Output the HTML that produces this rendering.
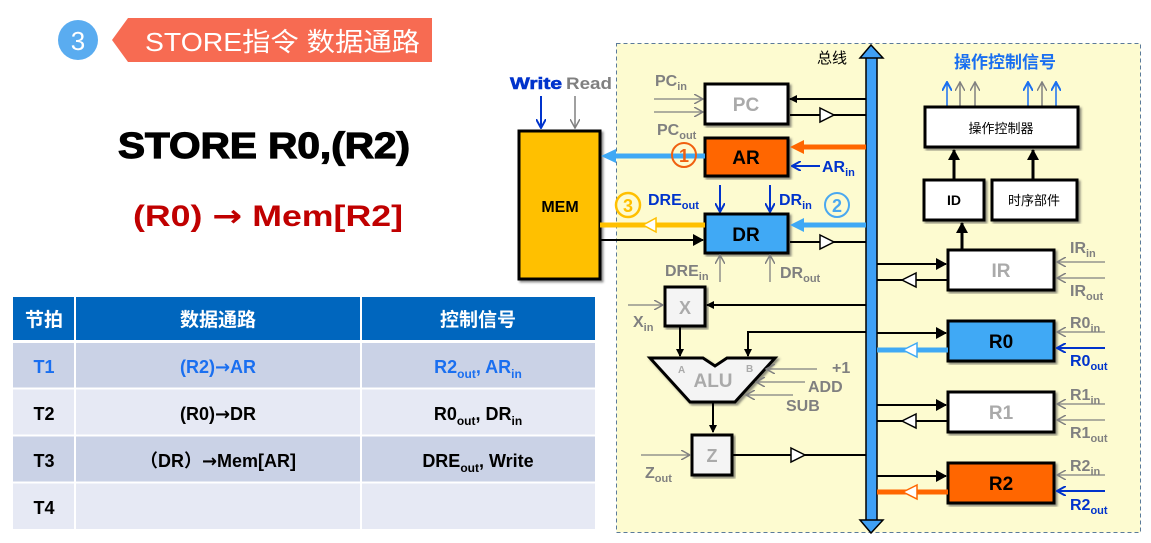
<!DOCTYPE html>
<html><head><meta charset="utf-8"><style>
body{margin:0;width:1151px;height:543px;overflow:hidden;background:#fff;font-family:"Liberation Sans","Noto Sans CJK SC",sans-serif}
svg{position:absolute;left:0;top:0}
text{font-family:"Liberation Sans","Noto Sans CJK SC",sans-serif}
.b{font-weight:bold}
.g{fill:#808080;font-weight:bold}
.bl{fill:#0033cc;font-weight:bold}
.ar{font-family:"DejaVu Sans",sans-serif}
</style></head><body>
<svg width="1151" height="543" viewBox="0 0 1151 543">
<defs>
<marker id="af" markerWidth="8" markerHeight="8" refX="7" refY="4" orient="auto" markerUnits="userSpaceOnUse"><path d="M0,0L8,4L0,8Z" fill="#000"/></marker>
<marker id="ag" markerWidth="10" markerHeight="10" refX="9" refY="5" orient="auto" markerUnits="userSpaceOnUse"><path d="M0,0L9,5L0,10" fill="none" stroke="#808080" stroke-width="1.5"/></marker>
<marker id="ab" markerWidth="10" markerHeight="10" refX="9" refY="5" orient="auto" markerUnits="userSpaceOnUse"><path d="M0,0L9,5L0,10" fill="none" stroke="#0033cc" stroke-width="2"/></marker>
<marker id="ak" markerWidth="12" markerHeight="12" refX="10" refY="6" orient="auto" markerUnits="userSpaceOnUse"><path d="M0,0L11,6L0,12Z" fill="#000"/></marker>
<marker id="au" markerWidth="10" markerHeight="10" refX="9" refY="5" orient="auto" markerUnits="userSpaceOnUse"><path d="M0,0L9,5L0,10" fill="none" stroke="#1a6ff0" stroke-width="2"/></marker>
<filter id="sh"><feDropShadow dx="2" dy="2" stdDeviation="1" flood-color="#444" flood-opacity="0.6"/></filter>
</defs>

<!-- header -->
<circle cx="78" cy="40" r="20" fill="#5aacf0"/>
<text x="78" y="50" font-size="26" fill="#fff" text-anchor="middle">3</text>
<polygon points="112,40 128,18 432,18 432,62 128,62" fill="#f76b52"/>
<text x="145" y="51" font-size="26" fill="#fff" textLength="275" lengthAdjust="spacingAndGlyphs">STORE指令  数据通路</text>
<text x="118" y="158" font-size="36" class="b" fill="#000" style="paint-order:stroke" stroke="#000" stroke-width="1.2" textLength="292" lengthAdjust="spacingAndGlyphs">STORE R0,(R2)</text>
<text x="133" y="226" font-size="30" class="b" fill="#c00000" textLength="270" lengthAdjust="spacingAndGlyphs">(R0) <tspan class="ar">→</tspan> Mem[R2]</text>

<!-- table -->
<rect x="13" y="297" width="582" height="44" fill="#0066be"/>
<rect x="13" y="342" width="582" height="46" fill="#cad2e6"/>
<rect x="13" y="389" width="582" height="46" fill="#e6e9f4"/>
<rect x="13" y="436" width="582" height="46" fill="#cad2e6"/>
<rect x="13" y="483" width="582" height="46" fill="#e6e9f4"/>
<g stroke="#fff" stroke-width="2"><line x1="75" y1="297" x2="75" y2="529"/><line x1="361" y1="297" x2="361" y2="529"/><line x1="13" y1="341.5" x2="595" y2="341.5" stroke-width="3"/><line x1="13" y1="388.5" x2="595" y2="388.5"/><line x1="13" y1="435.5" x2="595" y2="435.5"/><line x1="13" y1="482.5" x2="595" y2="482.5"/></g>
<g font-size="19" text-anchor="middle" fill="#fff" font-weight="bold"><text x="44" y="326">节拍</text><text x="218" y="326">数据通路</text><text x="478" y="326">控制信号</text></g>
<g font-size="18" font-weight="bold" text-anchor="middle">
<text x="44" y="373" fill="#1a6ff0">T1</text><text x="218" y="373" fill="#1a6ff0">(R2)<tspan class="ar">→</tspan>AR</text><text x="478" y="373" fill="#1a6ff0">R2<tspan font-size="12" dy="5">out</tspan><tspan dy="-5">, AR</tspan><tspan font-size="12" dy="5">in</tspan></text>
<text x="44" y="420">T2</text><text x="218" y="420">(R0)<tspan class="ar">→</tspan>DR</text><text x="478" y="420">R0<tspan font-size="12" dy="5">out</tspan><tspan dy="-5">, DR</tspan><tspan font-size="12" dy="5">in</tspan></text>
<text x="44" y="467">T3</text><text x="218" y="467">（DR）<tspan class="ar">→</tspan>Mem[AR]</text><text x="478" y="467">DRE<tspan font-size="12" dy="5">out</tspan><tspan dy="-5">, Write</tspan></text>
<text x="44" y="514">T4</text>
</g>

<!-- panel -->
<rect x="616.5" y="43.5" width="524" height="489" fill="#fdfbd0" stroke="#5a7a9a" stroke-dasharray="4,3"/>

<!-- MEM -->
<text x="510" y="89" font-size="17" class="bl" style="paint-order:stroke" stroke="#0033cc" stroke-width="0.6" textLength="52" lengthAdjust="spacingAndGlyphs">Write</text>
<text x="566" y="89" font-size="17" class="g" textLength="46" lengthAdjust="spacingAndGlyphs">Read</text>
<line x1="541" y1="96" x2="541" y2="128" stroke="#0033cc" stroke-width="2" marker-end="url(#ab)"/>
<line x1="575" y1="96" x2="575" y2="128" stroke="#808080" stroke-width="1.5" marker-end="url(#ag)"/>
<rect x="519" y="131" width="81" height="148" fill="#ffc000" stroke="#000" stroke-width="3" filter="url(#sh)"/>
<text x="560" y="212" font-size="16" class="b" text-anchor="middle">MEM</text>

<!-- bus -->
<rect x="866" y="56" width="11" height="470" fill="#3fa0f5" stroke="#000" stroke-width="1.5"/>
<polygon points="860,58 871,45 883,58" fill="#3fa0f5" stroke="#000" stroke-width="1.5"/>
<polygon points="860,520 871,533 883,520" fill="#3fa0f5" stroke="#000" stroke-width="1.5"/>
<text x="817" y="63" font-size="15">总线</text>

<!-- PC -->
<text x="655" y="86" font-size="16" class="g">PC<tspan font-size="11" dy="4">in</tspan></text>
<line x1="654" y1="99" x2="703" y2="99" stroke="#808080" stroke-width="1.3" marker-end="url(#ag)"/>
<line x1="654" y1="112" x2="703" y2="112" stroke="#808080" stroke-width="1.3" marker-end="url(#ag)"/>
<text x="657" y="135" font-size="16" class="g">PC<tspan font-size="11" dy="4">out</tspan></text>
<rect x="705" y="84" width="83" height="40" fill="#fff" stroke="#000" stroke-width="3" filter="url(#sh)"/>
<text x="746" y="111" font-size="19" fill="#aaa" class="b" text-anchor="middle">PC</text>
<line x1="866" y1="99" x2="790" y2="99" stroke="#000" stroke-width="2" marker-end="url(#af)"/>
<line x1="790" y1="115" x2="866" y2="115" stroke="#000" stroke-width="2"/>
<polygon points="820,108 834,115 820,122" fill="#fff" stroke="#000" stroke-width="1.5"/>

<!-- AR -->
<rect x="705" y="138" width="83" height="38" fill="#ff6600" stroke="#000" stroke-width="3" filter="url(#sh)"/>
<text x="746" y="164" font-size="19" class="b" text-anchor="middle">AR</text>
<line x1="866" y1="147" x2="800" y2="147" stroke="#ff6600" stroke-width="5"/>
<polygon points="790,147 804,140 804,154" fill="#ff6600"/>
<line x1="820" y1="166" x2="792" y2="166" stroke="#0033cc" stroke-width="2" marker-end="url(#ab)"/>
<text x="822" y="172" font-size="16" class="bl">AR<tspan font-size="11" dy="4">in</tspan></text>
<line x1="705" y1="156" x2="612" y2="156" stroke="#3fa9f5" stroke-width="5"/>
<polygon points="601,156 616,149 616,163" fill="#3fa9f5"/>
<circle cx="684" cy="155" r="12" fill="none" stroke="#f06010" stroke-width="2"/>
<text x="684" y="162" font-size="18" font-weight="bold" fill="#f06010" text-anchor="middle">1</text>

<!-- DR -->
<text x="648" y="205" font-size="16" class="bl">DRE<tspan font-size="11" dy="4">out</tspan></text>
<text x="779" y="205" font-size="16" class="bl">DR<tspan font-size="11" dy="4">in</tspan></text>
<line x1="720" y1="185" x2="720" y2="212" stroke="#0033cc" stroke-width="2" marker-end="url(#ab)"/>
<line x1="770" y1="185" x2="770" y2="212" stroke="#0033cc" stroke-width="2" marker-end="url(#ab)"/>
<circle cx="837" cy="205" r="12" fill="none" stroke="#4aa8f0" stroke-width="2"/>
<text x="837" y="212" font-size="18" font-weight="bold" fill="#4aa8f0" text-anchor="middle">2</text>
<circle cx="628" cy="205" r="12" fill="none" stroke="#ffc000" stroke-width="2.5"/>
<text x="628" y="212" font-size="18" font-weight="bold" fill="#ffc000" text-anchor="middle">3</text>
<rect x="705" y="214" width="83" height="39" fill="#3fa9f5" stroke="#000" stroke-width="3" filter="url(#sh)"/>
<text x="746" y="241" font-size="19" class="b" text-anchor="middle">DR</text>
<line x1="866" y1="225" x2="800" y2="225" stroke="#3fa9f5" stroke-width="5"/>
<polygon points="790,225 804,218 804,232" fill="#3fa9f5"/>
<line x1="705" y1="225" x2="600" y2="225" stroke="#ffc000" stroke-width="5"/>
<polygon points="643,225 656,218 656,232" fill="#fff" stroke="#ffc000" stroke-width="1.5"/>
<line x1="600" y1="240" x2="703" y2="240" stroke="#000" stroke-width="2" marker-end="url(#ak)"/>
<line x1="790" y1="242" x2="866" y2="242" stroke="#000" stroke-width="2"/>
<polygon points="820,235 834,242 820,249" fill="#fff" stroke="#000" stroke-width="1.5"/>
<line x1="720" y1="282" x2="720" y2="255" stroke="#808080" stroke-width="1.3" marker-end="url(#ag)"/>
<line x1="770" y1="282" x2="770" y2="255" stroke="#808080" stroke-width="1.3" marker-end="url(#ag)"/>
<text x="665" y="276" font-size="16" class="g">DRE<tspan font-size="11" dy="4">in</tspan></text>
<text x="780" y="278" font-size="16" class="g">DR<tspan font-size="11" dy="4">out</tspan></text>

<!-- X -->
<rect x="665" y="287" width="40" height="39" fill="#f4f4f4" stroke="#000" stroke-width="3" filter="url(#sh)"/>
<text x="685" y="314" font-size="18" fill="#aaa" class="b" text-anchor="middle">X</text>
<line x1="866" y1="305" x2="707" y2="305" stroke="#000" stroke-width="2" marker-end="url(#af)"/>
<line x1="628" y1="305" x2="663" y2="305" stroke="#808080" stroke-width="1.3" marker-end="url(#ag)"/>
<text x="633" y="327" font-size="16" class="g">X<tspan font-size="11" dy="4">in</tspan></text>

<!-- ALU -->
<polygon points="650,358 703,358 715,366 727,358 775,358 735,402 690,402" fill="#f4f4f4" stroke="#000" stroke-width="3" filter="url(#sh)"/>
<text x="678" y="373" font-size="10" fill="#aaa" class="b">A</text>
<text x="746" y="372" font-size="10" fill="#aaa" class="b">B</text>
<text x="713" y="387" font-size="19" fill="#aaa" class="b" text-anchor="middle">ALU</text>
<line x1="680" y1="326" x2="680" y2="356" stroke="#000" stroke-width="2" marker-end="url(#af)"/>
<polyline points="866,332 748,332 748,356" fill="none" stroke="#000" stroke-width="2" marker-end="url(#af)"/>
<line x1="817" y1="369" x2="766" y2="369" stroke="#808080" stroke-width="1.3" marker-end="url(#ag)"/>
<line x1="805" y1="382" x2="756" y2="382" stroke="#808080" stroke-width="1.3" marker-end="url(#ag)"/>
<line x1="793" y1="395" x2="746" y2="395" stroke="#808080" stroke-width="1.3" marker-end="url(#ag)"/>
<text x="832" y="373" font-size="16" class="g">+1</text>
<text x="808" y="392" font-size="16" class="g">ADD</text>
<text x="786" y="411" font-size="16" class="g">SUB</text>
<line x1="713" y1="402" x2="713" y2="432" stroke="#000" stroke-width="2" marker-end="url(#af)"/>

<!-- Z -->
<rect x="692" y="435" width="40" height="40" fill="#f4f4f4" stroke="#000" stroke-width="3" filter="url(#sh)"/>
<text x="712" y="462" font-size="18" fill="#aaa" class="b" text-anchor="middle">Z</text>
<line x1="641" y1="455" x2="690" y2="455" stroke="#808080" stroke-width="1.3" marker-end="url(#ag)"/>
<text x="645" y="478" font-size="16" class="g">Z<tspan font-size="11" dy="4">out</tspan></text>
<line x1="732" y1="455" x2="866" y2="455" stroke="#000" stroke-width="2"/>
<polygon points="791,448 805,455 791,462" fill="#fff" stroke="#000" stroke-width="1.5"/>

<!-- control -->
<text x="1005" y="68" font-size="17" fill="#1a6ff0" font-weight="bold" text-anchor="middle">操作控制信号</text>
<g stroke-width="1.5">
<line x1="947" y1="106" x2="947" y2="82" stroke="#1a6ff0" marker-end="url(#au)"/>
<line x1="960" y1="106" x2="960" y2="82" stroke="#808080" marker-end="url(#ag)"/>
<line x1="975" y1="106" x2="975" y2="82" stroke="#808080" marker-end="url(#ag)"/>
<line x1="1028" y1="106" x2="1028" y2="82" stroke="#1a6ff0" marker-end="url(#au)"/>
<line x1="1042" y1="106" x2="1042" y2="82" stroke="#808080" marker-end="url(#ag)"/>
<line x1="1056" y1="106" x2="1056" y2="82" stroke="#1a6ff0" marker-end="url(#au)"/>
</g>
<rect x="925" y="107" width="153" height="40" fill="#fff" stroke="#000" stroke-width="3" filter="url(#sh)"/>
<text x="1001" y="133" font-size="13" text-anchor="middle">操作控制器</text>
<rect x="924" y="180" width="60" height="40" fill="#fff" stroke="#000" stroke-width="3" filter="url(#sh)"/>
<text x="954" y="205" font-size="14" class="b" text-anchor="middle">ID</text>
<rect x="992" y="180" width="85" height="40" fill="#fff" stroke="#000" stroke-width="3" filter="url(#sh)"/>
<text x="1034" y="205" font-size="13" text-anchor="middle">时序部件</text>
<line x1="954" y1="180" x2="954" y2="150" stroke="#000" stroke-width="3" marker-end="url(#ak)"/>
<line x1="1033" y1="180" x2="1033" y2="150" stroke="#000" stroke-width="3" marker-end="url(#ak)"/>
<line x1="962" y1="250" x2="962" y2="223" stroke="#000" stroke-width="3" marker-end="url(#ak)"/>

<!-- IR -->
<rect x="948" y="250" width="106" height="40" fill="#fff" stroke="#000" stroke-width="3" filter="url(#sh)"/>
<text x="1001" y="277" font-size="19" fill="#aaa" class="b" text-anchor="middle">IR</text>
<line x1="877" y1="264" x2="946" y2="264" stroke="#000" stroke-width="2" marker-end="url(#ak)"/>
<line x1="877" y1="280" x2="948" y2="280" stroke="#000" stroke-width="2"/>
<polygon points="916,273 902,280 916,287" fill="#fff" stroke="#000" stroke-width="1.5"/>
<text x="1070" y="253" font-size="16" class="g">IR<tspan font-size="11" dy="4">in</tspan></text>
<text x="1070" y="296" font-size="16" class="g">IR<tspan font-size="11" dy="4">out</tspan></text>
<line x1="1105" y1="262" x2="1057" y2="262" stroke="#808080" stroke-width="1.3" marker-end="url(#ag)"/>
<line x1="1105" y1="278" x2="1057" y2="278" stroke="#808080" stroke-width="1.3" marker-end="url(#ag)"/>

<!-- R0 -->
<rect x="948" y="321" width="106" height="40" fill="#3fa9f5" stroke="#000" stroke-width="3" filter="url(#sh)"/>
<text x="1001" y="348" font-size="19" class="b" text-anchor="middle">R0</text>
<line x1="877" y1="333" x2="946" y2="333" stroke="#000" stroke-width="2" marker-end="url(#ak)"/>
<line x1="877" y1="350" x2="948" y2="350" stroke="#3fa9f5" stroke-width="5"/>
<polygon points="917,343 903,350 917,357" fill="#fff" stroke="#3fa9f5" stroke-width="1.5"/>
<text x="1070" y="328" font-size="16" class="g">R0<tspan font-size="11" dy="4">in</tspan></text>
<text x="1070" y="366" font-size="16" class="bl">R0<tspan font-size="11" dy="4">out</tspan></text>
<line x1="1105" y1="332" x2="1057" y2="332" stroke="#808080" stroke-width="1.3" marker-end="url(#ag)"/>
<line x1="1105" y1="348" x2="1057" y2="348" stroke="#0033cc" stroke-width="2" marker-end="url(#ab)"/>

<!-- R1 -->
<rect x="948" y="392" width="106" height="40" fill="#fff" stroke="#000" stroke-width="3" filter="url(#sh)"/>
<text x="1001" y="419" font-size="19" fill="#aaa" class="b" text-anchor="middle">R1</text>
<line x1="877" y1="405" x2="946" y2="405" stroke="#000" stroke-width="2" marker-end="url(#ak)"/>
<line x1="877" y1="421" x2="948" y2="421" stroke="#000" stroke-width="2"/>
<polygon points="916,414 902,421 916,428" fill="#fff" stroke="#000" stroke-width="1.5"/>
<text x="1070" y="400" font-size="16" class="g">R1<tspan font-size="11" dy="4">in</tspan></text>
<text x="1070" y="438" font-size="16" class="g">R1<tspan font-size="11" dy="4">out</tspan></text>
<line x1="1105" y1="404" x2="1057" y2="404" stroke="#808080" stroke-width="1.3" marker-end="url(#ag)"/>
<line x1="1105" y1="420" x2="1057" y2="420" stroke="#808080" stroke-width="1.3" marker-end="url(#ag)"/>

<!-- R2 -->
<rect x="948" y="463" width="106" height="40" fill="#ff6600" stroke="#000" stroke-width="3" filter="url(#sh)"/>
<text x="1001" y="490" font-size="19" class="b" text-anchor="middle">R2</text>
<line x1="877" y1="476" x2="946" y2="476" stroke="#000" stroke-width="2" marker-end="url(#ak)"/>
<line x1="877" y1="492" x2="948" y2="492" stroke="#ff6600" stroke-width="5"/>
<polygon points="917,485 903,492 917,499" fill="#fff" stroke="#ff6600" stroke-width="1.5"/>
<text x="1070" y="471" font-size="16" class="g">R2<tspan font-size="11" dy="4">in</tspan></text>
<text x="1070" y="510" font-size="16" class="bl">R2<tspan font-size="11" dy="4">out</tspan></text>
<line x1="1105" y1="475" x2="1057" y2="475" stroke="#808080" stroke-width="1.3" marker-end="url(#ag)"/>
<line x1="1105" y1="491" x2="1057" y2="491" stroke="#0033cc" stroke-width="2" marker-end="url(#ab)"/>
</svg>
</body></html>
